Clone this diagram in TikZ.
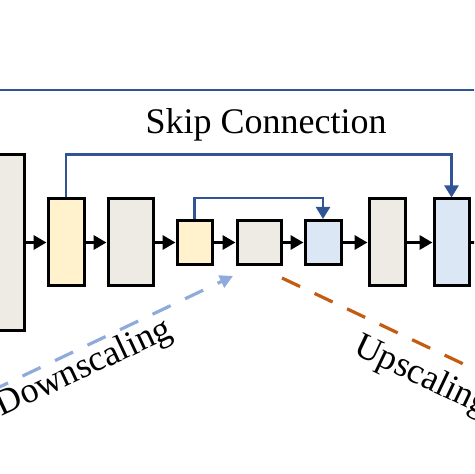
\documentclass[tikz,border=0pt]{standalone}
\usepackage{fontspec}
\setmainfont{Liberation Serif}
\usetikzlibrary{arrows.meta}

\definecolor{skipblue}{HTML}{2F5597}
\definecolor{downblue}{HTML}{8FAADC}
\definecolor{uporange}{HTML}{C55A11}
\definecolor{encfill}{HTML}{FFF2CC}
\definecolor{midfill}{HTML}{EEEAE4}
\definecolor{decfill}{HTML}{DCE7F5}

\tikzset{
  block/.style={draw=black, line width=1.5pt, inner sep=0pt},
  tall/.style={block, minimum height=43.5pt},
  short/.style={block, minimum height=22pt},
  flow/.style={line width=1.7pt, -{Triangle[length=6.5pt,width=7pt]}},
  skipline/.style={draw=skipblue, line width=1.2pt, -{Triangle[length=6pt,width=7pt]}},
  label/.style={font=\fontsize{18}{21}\selectfont},
}

\begin{document}
\begin{tikzpicture}[x=0.5pt, y=-0.5pt]
  \useasboundingbox (0,0) rectangle (474,474);
  \clip (0,0) rectangle (474,474);
  % Blocks
  \node[block, fill=midfill, minimum width=18pt, minimum height=87.5pt] (b1) at (6,242.5) {};
  \node[tall, fill=encfill, minimum width=18pt] (b2) at (66,242.5) {};
  \node[tall, fill=midfill, minimum width=22.5pt] (b3) at (130.5,242.5) {};
  \node[short, fill=encfill, minimum width=17.5pt] (b4) at (194.5,242.5) {};
  \node[short, fill=midfill, minimum width=22pt] (b5) at (259,242.5) {};
  \node[short, fill=decfill, minimum width=18pt] (b6) at (323,242.5) {};
  \node[tall, fill=midfill, minimum width=18pt] (b7) at (387,242.5) {};
  \node[tall, fill=decfill, minimum width=17.5pt] (b8) at (451.5,242.5) {};
  \coordinate (out) at (495,242.5);
  % Flow
  \foreach \a/\b in {b1/b2,b2/b3,b3/b4,b4/b5,b5/b6,b6/b7,b7/b8,b8/out}
    \draw[flow] (\a) -- (\b);
  % Skips
  \coordinate (topl) at (-10,90);
  \coordinate (topr) at (490,90);
  \draw[skipblue, line width=1.2pt] (topl) -- (topr);
  \draw[skipline] (b2.north) -- ++(0,-43) -| (b8.north);
  \draw[skipline] (b4.north) -- ++(0,-21) -| (b6.north);
  \node[label, anchor=base] (skiptxt) at (266,134) {Skip Connection};
  % Scaling
  \coordinate (ds) at (-10,391.5);
  \coordinate (de) at (233,276);
  \coordinate (us) at (282,278);
  \coordinate (ue) at (495,379);
  \draw[downblue, line width=1.6pt, dash pattern=on 10pt off 8pt, -{Triangle[length=6.5pt,width=6.5pt]}] (ds) -- (de);
  \draw[uporange, line width=1.6pt, dash pattern=on 10pt off 8pt] (us) -- (ue);
  \node[label, rotate=25] (downtxt) at (84,369) {Downscaling};
  \node[label, rotate=-25.5] (uptxt) at (422,377) {Upscaling};
\end{tikzpicture}
\end{document}
